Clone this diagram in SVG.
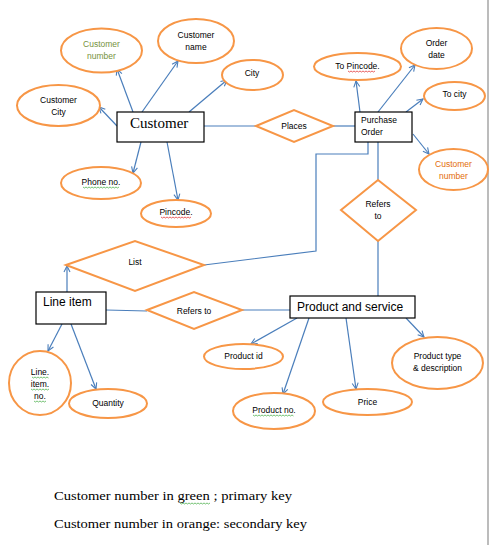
<svg xmlns="http://www.w3.org/2000/svg" width="489" height="545" viewBox="0 0 489 545">
<style>
.attr{fill:#fff;stroke:#f79646;stroke-width:2}
.rel{fill:#fff;stroke:#f79646;stroke-width:2}
.ent{fill:#fff;stroke:#000;stroke-width:1.2}
.c{fill:none;stroke:#4a7ebb;stroke-width:1.2}
.a{marker-end:url(#ah)}
.t{font-family:"Liberation Sans",Arial,sans-serif;font-size:8.5px;fill:#000;text-anchor:middle}
.tl{font-family:"Liberation Sans",Arial,sans-serif;font-size:8.5px;fill:#000}
.big{font-family:"Liberation Serif","Times New Roman",serif;font-size:15px;fill:#000}
.mid{font-family:"Liberation Sans",Arial,sans-serif;font-size:12px;fill:#000}
.note{font-family:"Liberation Serif","Times New Roman",serif;font-size:13.5px;fill:#000}
.wg{fill:none;stroke:#3aa83a;stroke-width:0.7}
.wr{fill:none;stroke:#e02020;stroke-width:0.7}
</style>
<defs>
<marker id="ah" markerWidth="8" markerHeight="8" refX="7" refY="4" orient="auto" markerUnits="userSpaceOnUse">
<path d="M1,1 L7,4 L1,7" fill="none" stroke="#4a7ebb" stroke-width="1.1"/>
</marker>
</defs>
<rect width="489" height="545" fill="#fff"/>
<line x1="488" y1="0" x2="488" y2="545" stroke="#a6a6a6" stroke-width="1.5"/>

<g id="connectors">
<line class="c a" x1="133" y1="112" x2="117" y2="69"/>
<line class="c a" x1="142" y1="112" x2="178" y2="61"/>
<line class="c a" x1="189" y1="112" x2="227" y2="80"/>
<line class="c a" x1="117" y1="126" x2="99" y2="107"/>
<line class="c a" x1="141" y1="142" x2="133" y2="173"/>
<line class="c a" x1="167" y1="142" x2="178" y2="200"/>
<line class="c" x1="204" y1="126" x2="256" y2="126"/>
<line class="c" x1="333" y1="126" x2="355" y2="126"/>
<line class="c a" x1="360" y1="112" x2="356" y2="81"/>
<line class="c a" x1="378" y1="112" x2="415" y2="65"/>
<line class="c a" x1="406" y1="112" x2="423" y2="99"/>
<line class="c a" x1="413" y1="134" x2="429" y2="154"/>
<line class="c" x1="378" y1="142" x2="378" y2="180"/>
<line class="c" x1="378" y1="241" x2="378" y2="296"/>
<polyline class="c" points="368,142 368,154 316,154 316,251 204,265"/>
<line class="c a" x1="67" y1="292" x2="67" y2="266"/>
<line class="c" x1="106" y1="310" x2="147" y2="311"/>
<line class="c" x1="242" y1="310" x2="290" y2="310"/>
<line class="c a" x1="62" y1="324" x2="48" y2="351"/>
<line class="c a" x1="71" y1="324" x2="96" y2="389"/>
<line class="c a" x1="297" y1="318" x2="251" y2="344"/>
<line class="c a" x1="309" y1="318" x2="283" y2="394"/>
<line class="c a" x1="346" y1="318" x2="356" y2="389"/>
<line class="c a" x1="406" y1="318" x2="424" y2="337"/>
</g>

<g id="customer">
<rect class="ent" x="117" y="112" width="87" height="30"/>
<text class="big" x="130" y="128">Customer</text>
</g>
<g id="customer-number">
<ellipse class="attr" cx="101.5" cy="50.5" rx="40.5" ry="22"/>
<text class="t" x="101.5" y="47" fill="#76923c" style="fill:#76923c">Customer</text>
<text class="t" x="101.5" y="59" style="fill:#76923c">number</text>
</g>
<g id="customer-name">
<ellipse class="attr" cx="196" cy="41" rx="38" ry="22"/>
<text class="t" x="196" y="38">Customer</text>
<text class="t" x="196" y="50">name</text>
</g>
<g id="city">
<ellipse class="attr" cx="252.5" cy="75" rx="30.5" ry="15"/>
<text class="t" x="252" y="76">City</text>
</g>
<g id="customer-city">
<ellipse class="attr" cx="58.5" cy="105.5" rx="41.5" ry="20.5"/>
<text class="t" x="58.5" y="103">Customer</text>
<text class="t" x="58.5" y="115">City</text>
</g>
<g id="phone">
<ellipse class="attr" cx="101" cy="183" rx="40" ry="16"/>
<text class="t" x="101" y="185">Phone no.</text>
<path class="wg" d="M83,187 l1.5,1 l1.5,-1 l1.5,1 l1.5,-1 l1.5,1 l1.5,-1 l1.5,1 l1.5,-1 l1.5,1 l1.5,-1 l1.5,1 l1.5,-1 l1.5,1 l1.5,-1 l1.5,1 l1.5,-1 l1.5,1 l1.5,-1 l1.5,1 l1.5,-1 l1.5,1 l1.5,-1 l1.5,1 l1.5,-1"/>
</g>
<g id="pincode">
<ellipse class="attr" cx="176" cy="213.5" rx="35" ry="13.5"/>
<text class="t" x="176" y="215">Pincode.</text>
<path class="wr" d="M161,217 l1.5,1 l1.5,-1 l1.5,1 l1.5,-1 l1.5,1 l1.5,-1 l1.5,1 l1.5,-1 l1.5,1 l1.5,-1 l1.5,1 l1.5,-1 l1.5,1 l1.5,-1 l1.5,1 l1.5,-1 l1.5,1 l1.5,-1 l1.5,1 l1.5,-1"/>
</g>

<g id="places">
<polygon class="rel" points="256,126 294,110 333,126 294,142"/>
<text class="t" x="294" y="129">Places</text>
</g>

<g id="purchase-order">
<rect class="ent" x="355" y="112" width="57" height="30"/>
<text class="tl" x="361" y="123">Purchase</text>
<text class="tl" x="361" y="135">Order</text>
</g>
<g id="to-pincode">
<ellipse class="attr" cx="357.5" cy="66.5" rx="43.5" ry="13.5"/>
<text class="t" x="357.5" y="69">To Pincode.</text>
<path class="wr" d="M348,71 l1.5,1 l1.5,-1 l1.5,1 l1.5,-1 l1.5,1 l1.5,-1 l1.5,1 l1.5,-1 l1.5,1 l1.5,-1 l1.5,1 l1.5,-1 l1.5,1 l1.5,-1 l1.5,1 l1.5,-1 l1.5,1 l1.5,-1"/>
</g>
<g id="order-date">
<ellipse class="attr" cx="436.5" cy="48.5" rx="35.5" ry="20.5"/>
<text class="t" x="436.5" y="46">Order</text>
<text class="t" x="436.5" y="58">date</text>
</g>
<g id="to-city">
<ellipse class="attr" cx="454.5" cy="96" rx="30.5" ry="14"/>
<text class="t" x="454.5" y="97">To city</text>
</g>
<g id="customer-number-fk">
<ellipse class="attr" cx="453.5" cy="169.5" rx="34.5" ry="20.5"/>
<text class="t" x="453.5" y="167" style="fill:#e36c09">Customer</text>
<text class="t" x="453.5" y="179" style="fill:#e36c09">number</text>
</g>

<g id="refers-to-po">
<polygon class="rel" points="378,180 416,210 378,241 341,210"/>
<text class="t" x="378" y="207">Refers</text>
<text class="t" x="378" y="219">to</text>
</g>

<g id="list">
<polygon class="rel" points="66,265 135,241 204,265 135,291"/>
<text class="t" x="135" y="265">List</text>
</g>

<g id="line-item">
<rect class="ent" x="36" y="292" width="70" height="32"/>
<text class="mid" x="43" y="306">Line item</text>
</g>
<g id="line-item-no">
<ellipse class="attr" cx="40" cy="383" rx="31" ry="32"/>
<text class="t" x="40" y="375">Line.</text>
<text class="t" x="40" y="387">item.</text>
<text class="t" x="40" y="399">no.</text>
<path class="wg" d="M32,377 l1.5,1 l1.5,-1 l1.5,1 l1.5,-1 l1.5,1 l1.5,-1 l1.5,1 l1.5,-1 l1.5,1 l1.5,-1 l1.5,1"/>
<path class="wg" d="M31,389 l1.5,1 l1.5,-1 l1.5,1 l1.5,-1 l1.5,1 l1.5,-1 l1.5,1 l1.5,-1 l1.5,1 l1.5,-1 l1.5,1 l1.5,-1"/>
<path class="wg" d="M34,401 l1.5,1 l1.5,-1 l1.5,1 l1.5,-1 l1.5,1 l1.5,-1 l1.5,1 l1.5,-1"/>
</g>
<g id="quantity">
<ellipse class="attr" cx="108" cy="403.5" rx="39" ry="14.5"/>
<text class="t" x="108" y="406">Quantity</text>
</g>

<g id="refers-to-li">
<polygon class="rel" points="147,310 194,292 242,310 194,329"/>
<text class="t" x="194" y="314">Refers to</text>
</g>

<g id="product">
<rect class="ent" x="290" y="296" width="125" height="22"/>
<text class="mid" x="297" y="311">Product and service</text>
</g>
<g id="product-id">
<ellipse class="attr" cx="243.5" cy="356.5" rx="39.5" ry="12.5"/>
<text class="t" x="243.5" y="359">Product id</text>
</g>
<g id="product-no">
<ellipse class="attr" cx="274" cy="411" rx="41" ry="18"/>
<text class="t" x="274" y="413">Product no.</text>
<path class="wg" d="M253,415 l1.5,1 l1.5,-1 l1.5,1 l1.5,-1 l1.5,1 l1.5,-1 l1.5,1 l1.5,-1 l1.5,1 l1.5,-1 l1.5,1 l1.5,-1 l1.5,1 l1.5,-1 l1.5,1 l1.5,-1 l1.5,1 l1.5,-1 l1.5,1 l1.5,-1 l1.5,1 l1.5,-1 l1.5,1 l1.5,-1 l1.5,1 l1.5,-1 l1.5,1"/>
</g>
<g id="price">
<ellipse class="attr" cx="367.5" cy="402" rx="44.5" ry="13"/>
<text class="t" x="367.5" y="405">Price</text>
</g>
<g id="product-type">
<ellipse class="attr" cx="437.5" cy="363" rx="45.5" ry="26"/>
<text class="t" x="437.5" y="359">Product type</text>
<text class="t" x="437.5" y="371">&amp; description</text>
</g>

<g id="notes">
<text class="note" x="54" y="500" textLength="238" lengthAdjust="spacingAndGlyphs">Customer number in green ; primary key</text>
<path class="wg" d="M180,503 l1.5,1 l1.5,-1 l1.5,1 l1.5,-1 l1.5,1 l1.5,-1 l1.5,1 l1.5,-1 l1.5,1 l1.5,-1 l1.5,1 l1.5,-1 l1.5,1 l1.5,-1 l1.5,1 l1.5,-1 l1.5,1 l1.5,-1 l1.5,1 l1.5,-1"/>
<text class="note" x="54" y="528" textLength="253" lengthAdjust="spacingAndGlyphs">Customer number in orange: secondary key</text>
</g>
</svg>
